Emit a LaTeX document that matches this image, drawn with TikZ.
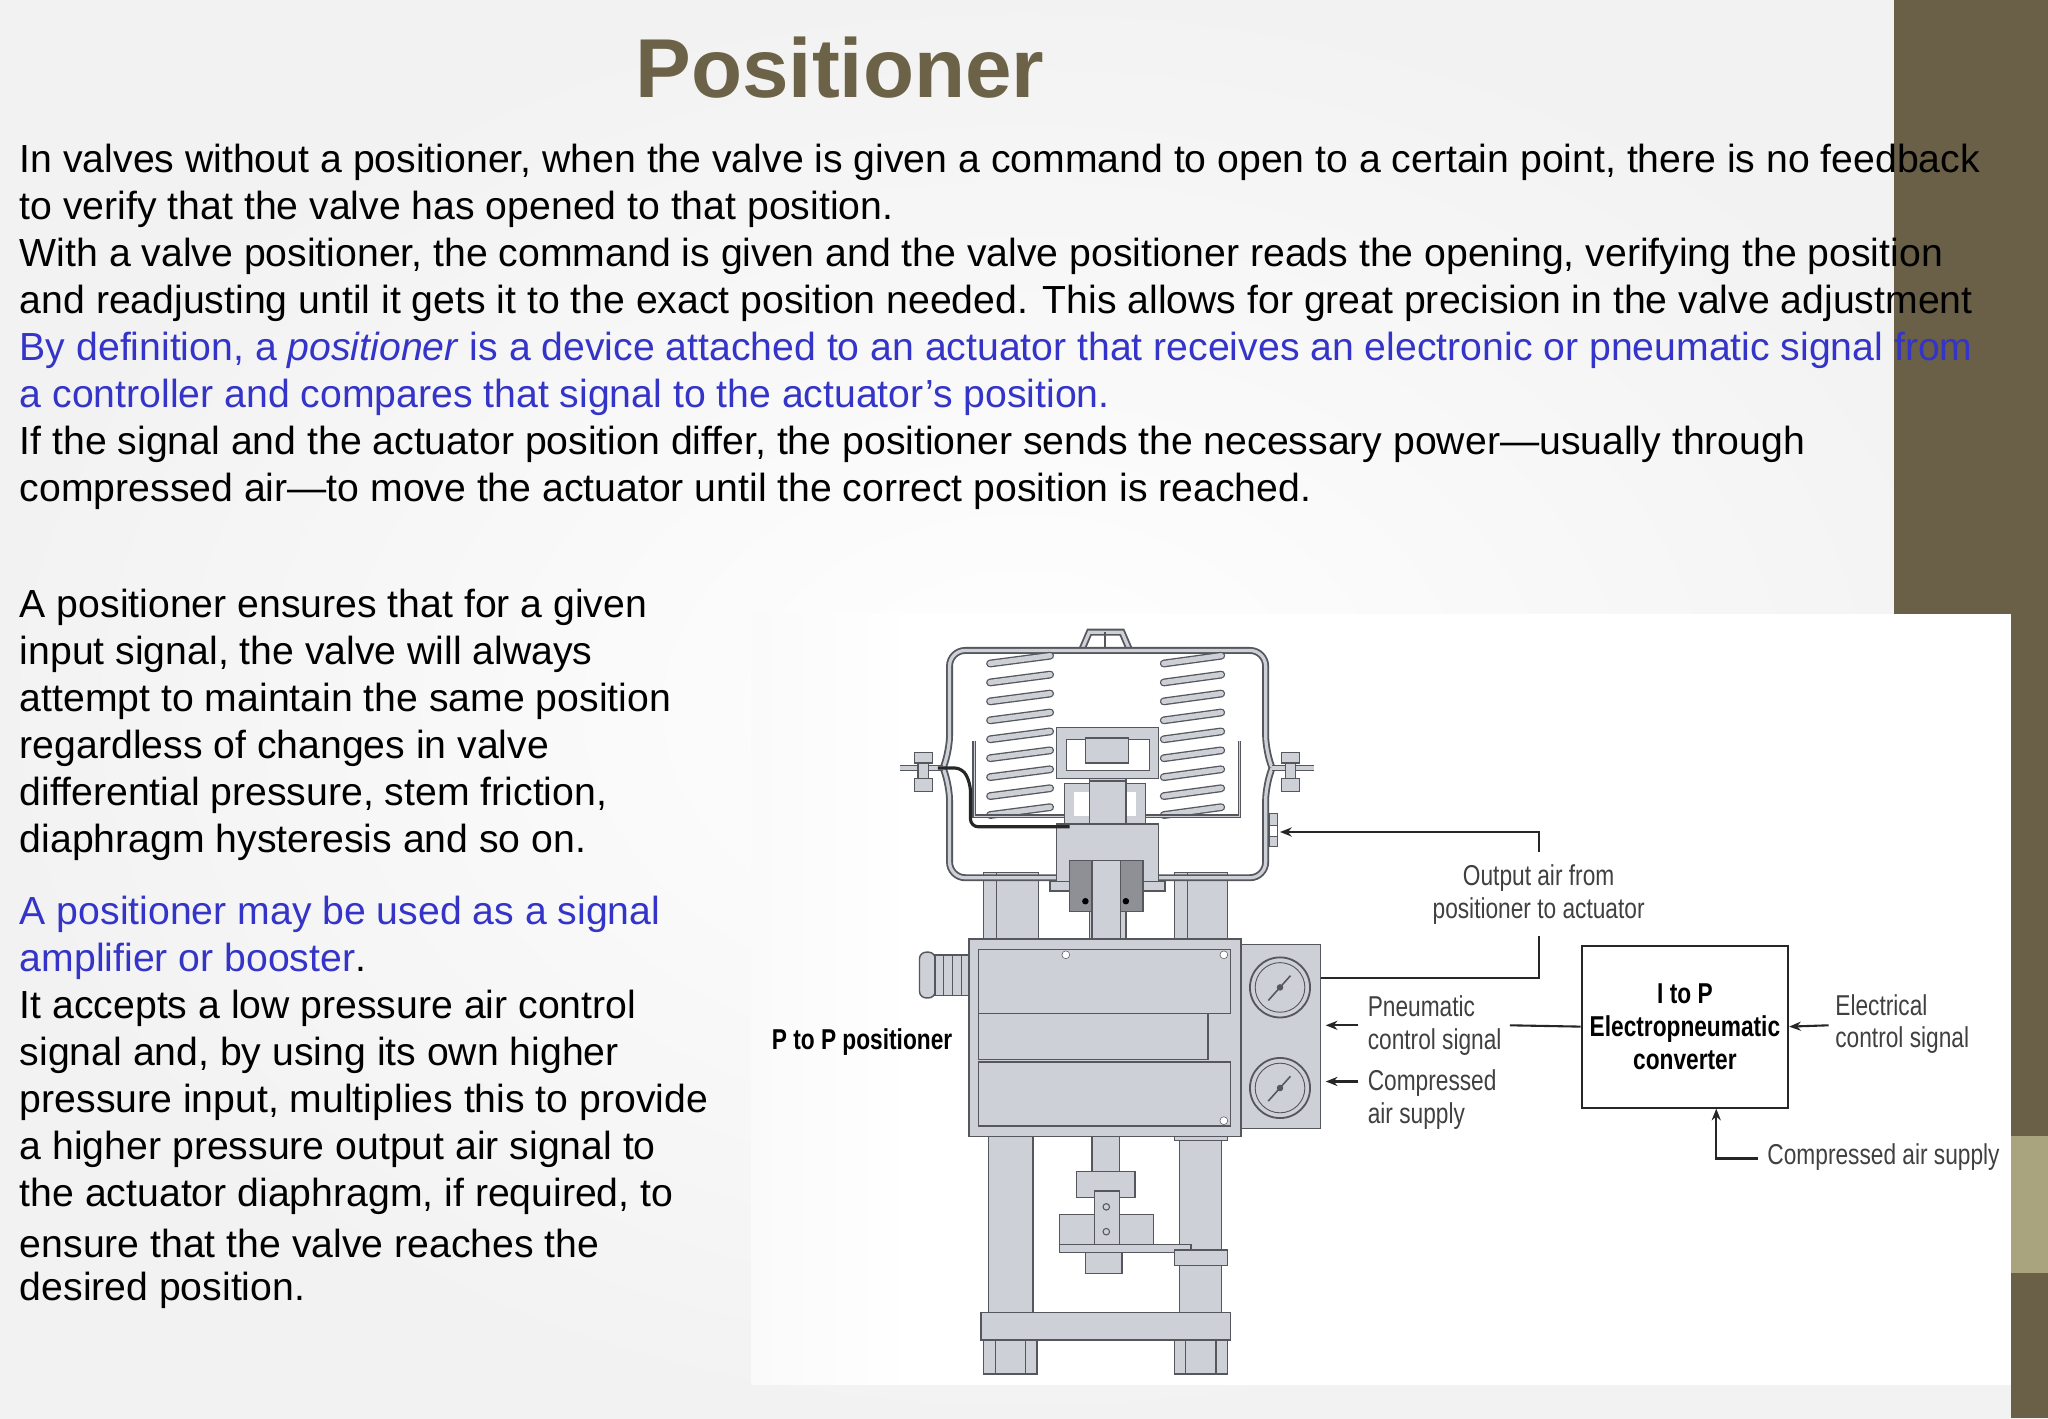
\documentclass[tikz,border=0pt]{standalone}
\usepackage{fontspec}
\setmainfont{Liberation Sans}
\newfontfamily\cond[FakeStretch=0.79]{Liberation Sans}
\usetikzlibrary{arrows.meta,calc}
\definecolor{olive}{HTML}{6A5F47}
\definecolor{lolive}{HTML}{A9A47D}
\definecolor{ttl}{HTML}{6B6248}
\definecolor{blu}{HTML}{3434C8}
\definecolor{mg}{HTML}{CDD0D6}
\definecolor{dg}{HTML}{8E9096}
\definecolor{ol}{HTML}{55575C}
\begin{document}
\begin{tikzpicture}[x=1pt,y=-1pt,
  body/.style={anchor=west,inner sep=0,font=\fontsize{30}{34}\selectfont},
  lbl/.style={anchor=west,inner sep=0,align=left,font=\cond\fontsize{22}{25}\selectfont,text=black!75},
  part/.style={draw=ol,fill=mg,line width=1.1pt},
  shell/.style={draw=ol,line width=1.4pt,double=mg,double distance=2.5pt},
  coil/.style={draw=ol,line width=1pt,double=mg,double distance=4pt,line cap=round},
  arr/.style={-{Stealth[length=9pt,width=7pt]},line width=1.6pt,black!85},
  ln/.style={line width=1.6pt,black!85}]
\useasboundingbox (0,0) rectangle (1568,1086);
\shade[inner color=white,outer color=black!5] (0,0) rectangle (1568,1086);
\fill[olive] (1450,0) rectangle (1568,470);
\shade[left color=black!2,right color=white] (575,470) rectangle (700,1060);
\fill[white] (700,470) rectangle (1540,1060);
\fill[olive] (1540,470) rectangle (1568,1086);
\fill[lolive] (1540,870) rectangle (1568,975);
% title and text
\node[inner sep=0,text=ttl,font=\bfseries\fontsize{64}{70}\selectfont] (title) at (643,52) {Positioner};
\node[body] (t1) at (15,124) {In valves without a positioner, when the valve is given a command to open to a certain point, there is no feedback};
\node[body] (t2) at (15,160) {to verify that the valve has opened to that position.};
\node[body] (t3) at (15,196) {With a valve positioner, the command is given and the valve positioner reads the opening, verifying the position};
\node[body] (t4) at (15,232) {and readjusting until it gets it to the exact position needed. This allows for great precision in the valve adjustment};
\node[body,text=blu] (t5) at (15,268) {By definition, a \emph{positioner} is a device attached to an actuator that receives an electronic or pneumatic signal from};
\node[body,text=blu] (t6) at (15,304) {a controller and compares that signal to the actuator’s position.};
\node[body] (t7) at (15,340) {If the signal and the actuator position differ, the positioner sends the necessary power—usually through};
\node[body] (t8) at (15,376) {compressed air—to move the actuator until the correct position is reached.};
\foreach \t [count=\i] in {A positioner ensures that for a given,input signal{,} the valve will always,attempt to maintain the same position,regardless of changes in valve,differential pressure{,} stem friction{,},diaphragm hysteresis and so on.}
  \node[body] (l\i) at (15,429+36*\i) {\t};
\node[body,text=blu] (b1) at (15,700) {A positioner may be used as a signal};
\node[body] (b2) at (15,736) {\textcolor{blu}{amplifier or booster}.};
\foreach \t [count=\i] in {It accepts a low pressure air control,signal and{,} by using its own higher,pressure input{,} multiplies this to provide,a higher pressure output air signal to,the actuator diaphragm{,} if required{,} to,ensure that the valve reaches the,desired position.}
  \node[body] (m\i) at (15,736+36*\i) {\t};
% ===== device =====
\draw[part] (757,868) rectangle (791,1006);
\draw[part] (903,868) rectangle (935,1006);
\draw[part] (899,866) rectangle (940,873);
\draw[part] (836,868) rectangle (857,899);
\draw[part] (824,897) rectangle (869,917);
\draw[part] (811,930) rectangle (883,956);
\draw[part] (838,912) rectangle (857,956);
\draw[ol,line width=0.8pt] (847,924) circle (2.5) (847,943) circle (2.5);
\draw[part] (831,956) rectangle (859,975);
\draw[part] (811,953) rectangle (912,959);
\draw[part] (899,957) rectangle (940,969);
\draw[part] (751,1005) rectangle (942,1026);
\draw[part] (753,1026) rectangle (794,1052);
\draw[part] (899,1026) rectangle (940,1052);
\draw[ol,line width=0.8pt] (762,1026)--(762,1052) (785,1026)--(785,1052) (908,1026)--(908,1052) (931,1026)--(931,1052);
\draw[part] (753,668) rectangle (795,720);
\draw[part] (899,668) rectangle (940,720);
\draw[ol,line width=0.8pt] (763,668)--(763,720) (909,668)--(909,720);
\draw[part] (834,560) rectangle (862,722);
% housing
\draw[shell] (828,498) -- (834,484) -- (859,484) -- (865,498);
\draw[ol,line width=1pt] (846,484)--(846,498);
\draw[shell,rounded corners=12pt] (722,588) -- (727,575) -- (727,498) -- (969,498) -- (969,575) -- (974,588);
\draw[shell,rounded corners=12pt] (722,588) -- (727,601) -- (727,672) -- (969,672) -- (969,601) -- (974,588);
\draw[shell] (689,588) -- (722,588);
\draw[shell] (974,588) -- (1006,588);
\draw[part] (972,623) rectangle (978,648);
\draw[fill=white,draw=ol] (972,632) rectangle (978,640);
\foreach \bx in {707,988}{
  \draw[part] (\bx-7,576) rectangle (\bx+7,584);
  \draw[part] (\bx-4,584) rectangle (\bx+4,596);
  \draw[part] (\bx-7,596) rectangle (\bx+7,606);}
\foreach \i in {0,...,8}{
  \draw[coil] (758,508+14.5*\i) -- (804,502+14.5*\i);
  \draw[coil] (891,508+14.5*\i) -- (935,502+14.5*\i);}
\draw[line width=3pt,ol] (746,567) -- (746,625) -- (949,625) -- (949,567);
\draw[line width=1pt,mg] (746,567) -- (746,625) -- (949,625) -- (949,567);
\draw[part] (809,557) rectangle (887,596);
\fill[white] (816,566) rectangle (880,590);
\draw[ol] (816,566) rectangle (880,590);
\draw[part] (831,565) rectangle (864,584);
\draw[part] (815,600) rectangle (877,631);
\fill[white] (822,606) rectangle (870,625);
\draw[part] (834,598) rectangle (862,660);
\draw[part] (809,631) rectangle (887,680);
\draw[part] (804,675) rectangle (892,682);
\draw[draw=ol,fill=dg,line width=1pt] (819,659) rectangle (875,698);
\draw[part] (836,659) rectangle (858,720);
\fill (831,690) circle (2.5) (862,690) circle (2.5);
\draw[line width=2.4pt,black!85,rounded corners=6pt] (718,588) -- (737,588) -- (743,600) -- (743,633) -- (819,633);
% positioner box
\draw[part] (742,719) rectangle (950,870);
\draw[part] (749,727) rectangle (942,776);
\draw[part] (749,776) rectangle (925,811);
\draw[part] (749,813) rectangle (942,862);
\draw[fill=white,draw=ol] (816,731) circle (3) (937,731) circle (3) (937,858) circle (3);
\draw[part] (950,723) rectangle (1011,864);
\foreach \gy in {756,833}{
  \draw[draw=ol,fill=mg,line width=1.4pt] (980,\gy) circle (23);
  \draw[draw=ol,line width=0.7pt] (980,\gy) circle (19);
  \draw[ol,line width=1.2pt] (971,\gy+10) -- (988,\gy-9);
  \fill[ol] (980,\gy) circle (2.5);}
\draw[part,rounded corners=5pt] (704,729) rectangle (716,764);
\draw[part] (716,731) rectangle (742,762);
\draw[ol] (722,731)--(722,762) (729,731)--(729,762) (736,731)--(736,762);
% annotation
\coordinate (outport) at (980,637);
\coordinate (oc1) at (1178,637);
\coordinate (oc2) at (1178,652);
\coordinate (oc3) at (1178,717);
\coordinate (oc4) at (1178,749);
\coordinate (pbox) at (1011,749);
\draw[arr] (oc2) -- (oc1) -- (outport);
\draw[ln] (oc3) -- (oc4) -- (pbox);
\node[lbl,anchor=center,align=center] (outlbl) at (1178,685) {Output air from\\positioner to actuator};
\node[draw=black!85,line width=1.6pt,minimum width=158pt,minimum height=124pt,align=center,inner sep=0,font=\cond\bfseries\fontsize{22}{25}\selectfont] (conv) at (1290,786) {I to P\\Electropneumatic\\converter};
\coordinate (ps1) at (1040,785);
\coordinate (ps2) at (1015,785);
\coordinate (ca1) at (1040,828);
\coordinate (ca2) at (1015,828);
\draw[arr] (ps1) -- (ps2);
\draw[arr] (ca1) -- (ca2);
\node[lbl] (pneu) at (1047,785) {Pneumatic\\control signal};
\node[lbl] (comp) at (1047,842) {Compressed\\air supply};
\coordinate (cl) at (1156,785);
\draw[ln] (cl) -- (conv.west);
\coordinate (el) at (1400,785);
\draw[arr] (el) -- (conv.east);
\node[lbl] (elec) at (1405,784) {Electrical\\control signal};
\coordinate (cs1) at (1346,887);
\coordinate (cs2) at (1314,887);
\draw[arr] (cs1) -- (cs2) -- (conv.south -| cs2);
\node[lbl] (csup) at (1353,886) {Compressed air supply};
\node[inner sep=0,font=\cond\bfseries\fontsize{22}{25}\selectfont] (ptop) at (660,798) {P to P positioner};
\end{tikzpicture}
\end{document}
